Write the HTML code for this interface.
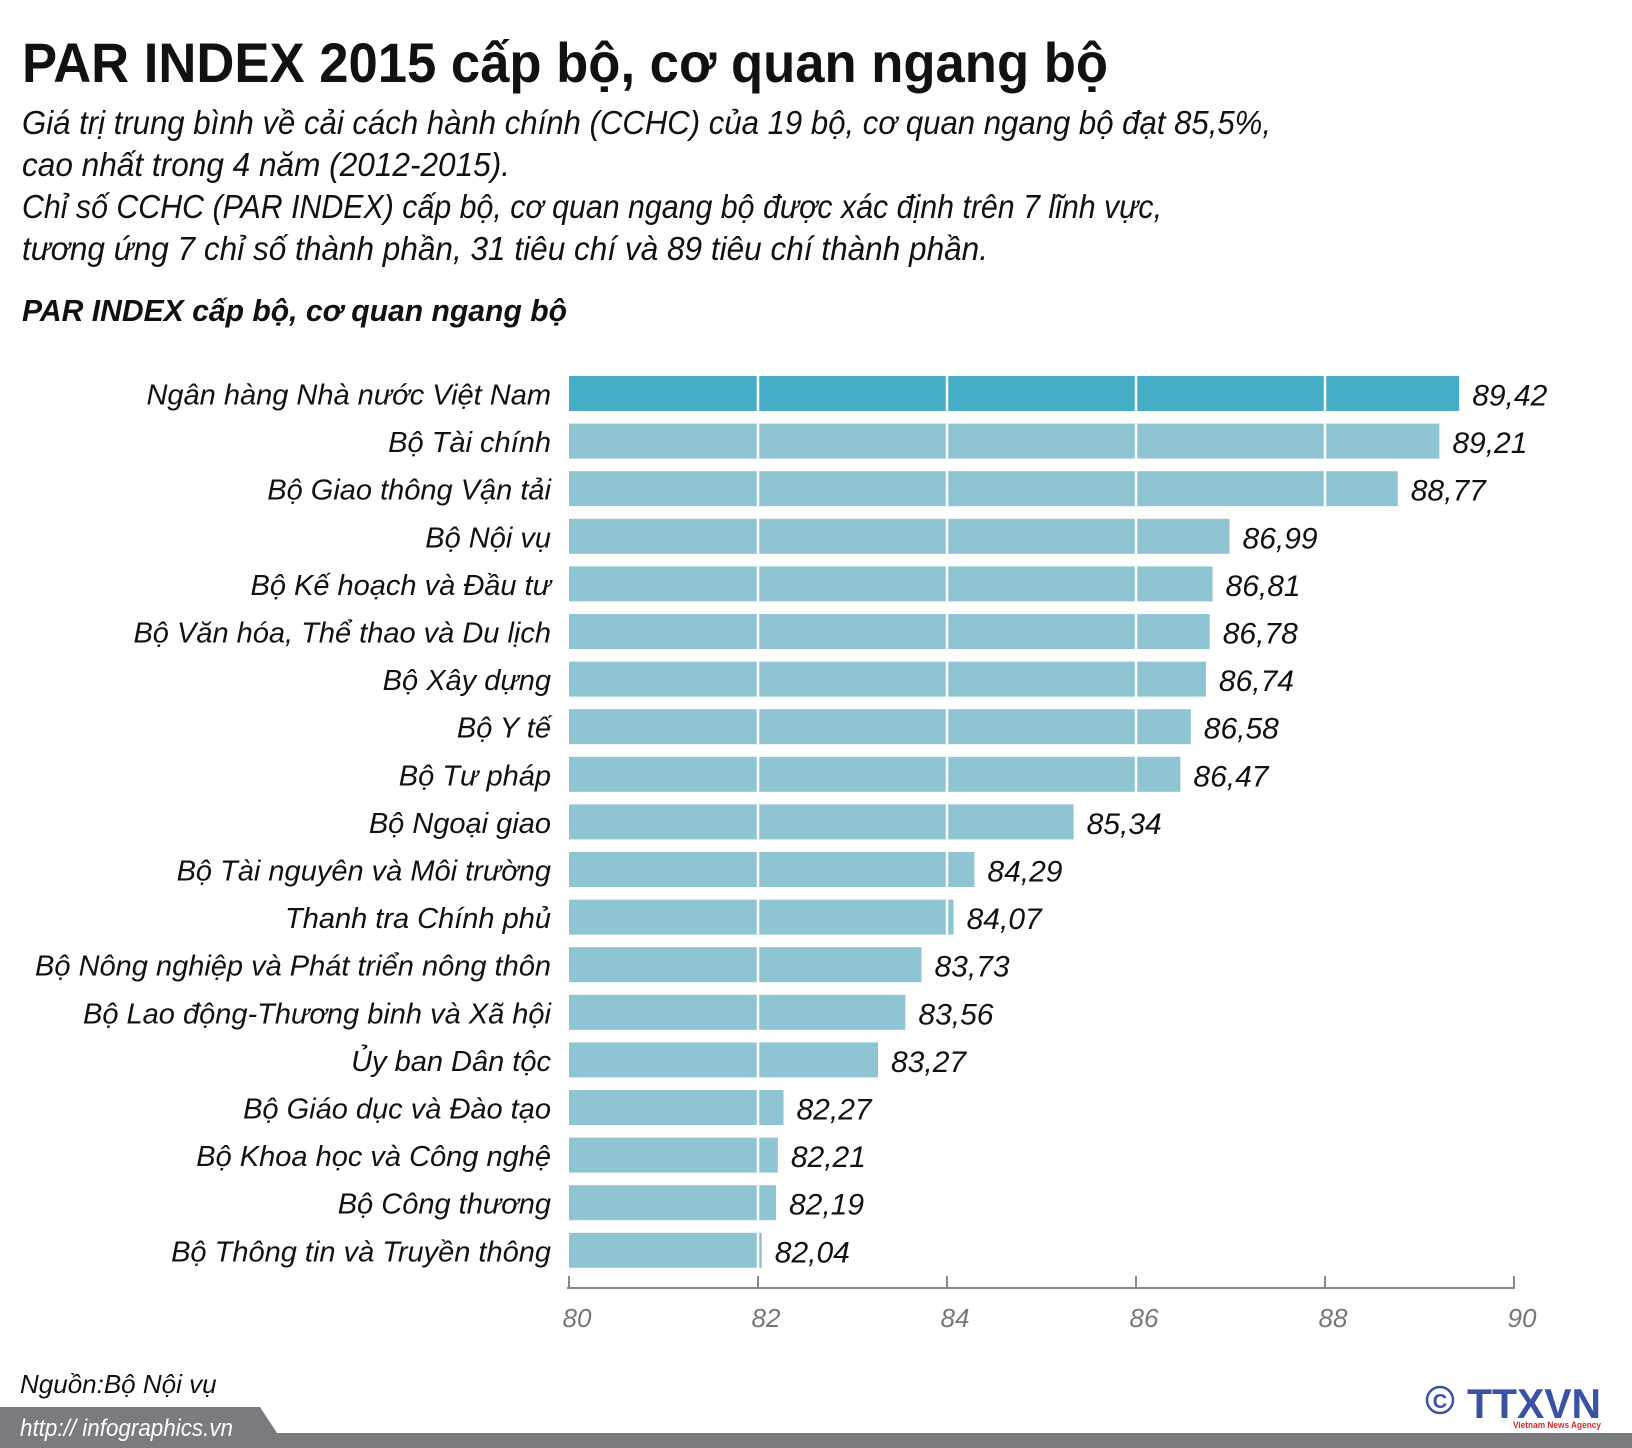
<!DOCTYPE html>
<html><head><meta charset="utf-8"><style>
html,body{margin:0;padding:0;background:#fff}
svg{display:block}
text{font-family:"Liberation Sans","DejaVu Sans",sans-serif}
</style></head><body>
<svg id="chart" width="1632" height="1448" viewBox="0 0 1632 1448" xmlns="http://www.w3.org/2000/svg">
<text x="22" y="82" font-size="56" font-weight="bold" fill="#111" textLength="1086" lengthAdjust="spacingAndGlyphs">PAR INDEX 2015 cấp bộ, cơ quan ngang bộ</text>
<g font-size="33" font-style="italic" fill="#111">
<text x="22" y="134" textLength="1249" lengthAdjust="spacingAndGlyphs">Giá trị trung bình về cải cách hành chính (CCHC) của 19 bộ, cơ quan ngang bộ đạt 85,5%,</text>
<text x="22" y="176" textLength="488" lengthAdjust="spacingAndGlyphs">cao nhất trong 4 năm (2012-2015).</text>
<text x="22" y="218" textLength="1140" lengthAdjust="spacingAndGlyphs">Chỉ số CCHC (PAR INDEX) cấp bộ, cơ quan ngang bộ được xác định trên 7 lĩnh vực,</text>
<text x="22" y="260" textLength="966" lengthAdjust="spacingAndGlyphs">tương ứng 7 chỉ số thành phần, 31 tiêu chí và 89 tiêu chí thành phần.</text>
</g>
<text x="22" y="321" font-size="31" font-weight="bold" font-style="italic" fill="#111" textLength="545" lengthAdjust="spacingAndGlyphs">PAR INDEX cấp bộ, cơ quan ngang bộ</text>
<g id="bars"></g>
<g id="axis"></g>
<text x="20" y="1393" font-size="26" font-style="italic" fill="#111">Nguồn:Bộ Nội vụ</text>
<path d="M0 1407 L260 1407 L277 1433 L1632 1433 L1632 1448 L0 1448 Z" fill="#7a7b7e"/>
<text x="20" y="1436" font-size="24" font-style="italic" fill="#fff" textLength="213" lengthAdjust="spacingAndGlyphs">http:// infographics.vn</text>
<g>
<circle cx="1440" cy="1400" r="13" fill="none" stroke="#3a52a4" stroke-width="2.5"/>
<text x="1440" y="1408" font-size="20" font-weight="bold" fill="#3a52a4" text-anchor="middle">C</text>
<text x="1467" y="1418" font-size="42" font-weight="bold" fill="#3a52a4" textLength="134" lengthAdjust="spacingAndGlyphs">TTXVN</text>
<text x="1513" y="1428" font-size="9" font-weight="bold" fill="#d9262c" textLength="88" lengthAdjust="spacingAndGlyphs">Vietnam News Agency</text>
</g>
</svg>
<script>
const categories = ["Ngân hàng Nhà nước Việt Nam","Bộ Tài chính","Bộ Giao thông Vận tải","Bộ Nội vụ","Bộ Kế hoạch và Đầu tư","Bộ Văn hóa, Thể thao và Du lịch","Bộ Xây dựng","Bộ Y tế","Bộ Tư pháp","Bộ Ngoại giao","Bộ Tài nguyên và Môi trường","Thanh tra Chính phủ","Bộ Nông nghiệp và Phát triển nông thôn","Bộ Lao động-Thương binh và Xã hội","Ủy ban Dân tộc","Bộ Giáo dục và Đào tạo","Bộ Khoa học và Công nghệ","Bộ Công thương","Bộ Thông tin và Truyền thông"];
const values = [89.42,89.21,88.77,86.99,86.81,86.78,86.74,86.58,86.47,85.34,84.29,84.07,83.73,83.56,83.27,82.27,82.21,82.19,82.04];
const valueLabels = ["89,42","89,21","88,77","86,99","86,81","86,78","86,74","86,58","86,47","85,34","84,29","84,07","83,73","83,56","83,27","82,27","82,21","82,19","82,04"];
const ticks = [80,82,84,86,88,90];
const tickLabels = ["80","82","84","86","88","90"];

const NS = "http://www.w3.org/2000/svg";
const X0 = 569, XMIN = 80, XMAX = 90, X1 = 1514;
const xs = v => X0 + (v - XMIN) / (XMAX - XMIN) * (X1 - X0);
const ROW0 = 376, ROWH = 47.6, BARH = 35;
const ys = i => ROW0 + i * ROWH;
function mk(tag, attrs, parent){const e=document.createElementNS(NS,tag);for(const k in attrs)e.setAttribute(k,attrs[k]);parent.appendChild(e);return e;}
const gb = document.getElementById('bars');
categories.forEach((c,i)=>{
  const y = ys(i);
  const r = mk('rect',{x:X0,y:y,width:xs(values[i])-X0,height:BARH,fill:i===0?'#46adc6':'#8fc5d2'},gb);
  
  
  ticks.slice(1,-1).forEach(t=>{
    if (t < values[i]) {
      const l = mk('line',{x1:xs(t),x2:xs(t),y1:y,y2:y+BARH,stroke:'#fff','stroke-width':2.5},gb);
      
      
    }
  });
  const lab = mk('text',{x:551,y:y+BARH/2+11,'font-size':29,'font-style':'italic',fill:'#111','text-anchor':'end'},gb);
  lab.textContent = c;
  
  
  const vl = mk('text',{x:xs(values[i])+13,y:y+BARH/2+12,'font-size':30,'font-style':'italic',fill:'#111'},gb);
  vl.textContent = valueLabels[i];
  
  
});
const ga = document.getElementById('axis');
const ax = mk('line',{x1:X0-2,x2:X1+1,y1:1288,y2:1288,stroke:'#888','stroke-width':2},ga);


ticks.forEach((t,i)=>{
  const tk = mk('line',{x1:xs(t),x2:xs(t),y1:1276,y2:1288,stroke:'#888','stroke-width':2},ga);
  
  
  const tl = mk('text',{x:xs(t)+8,y:1327,'font-size':26,'font-style':'italic',fill:'#777','text-anchor':'middle'},ga);
  tl.textContent = tickLabels[i];
  
  
});
</script>
</body></html>
